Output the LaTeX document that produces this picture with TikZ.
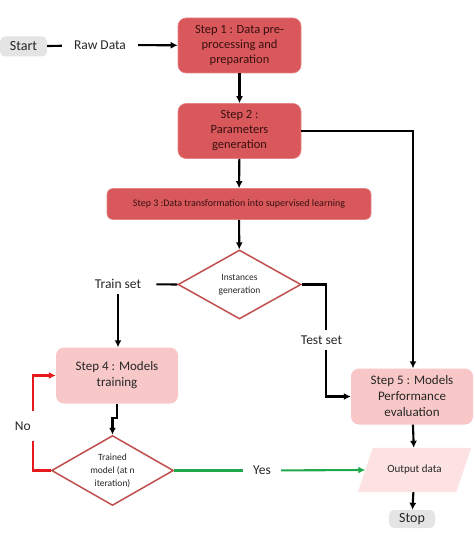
\documentclass[tikz,border=0pt]{standalone}
\usepackage{fontspec}
\setmainfont{Carlito}
\usetikzlibrary{shapes.geometric,arrows.meta,backgrounds}
\definecolor{stepdark}{HTML}{D9585B}
\definecolor{stepdarkedge}{HTML}{E38587}
\definecolor{steptext}{HTML}{3A1010}
\definecolor{steplight}{HTML}{F8C7C7}
\definecolor{outfill}{HTML}{FCE2E1}
\definecolor{diamedge}{HTML}{C0504D}
\definecolor{termfill}{HTML}{E4E4E4}
\definecolor{txtgray}{HTML}{262626}
\definecolor{nored}{HTML}{E8191C}
\definecolor{yesgreen}{HTML}{1FA84C}
\begin{document}
\begin{tikzpicture}[x=1pt,y=-1pt,
  darkbox/.style={rectangle, rounded corners=8pt, fill=stepdark, draw=stepdarkedge, line width=0.6pt,
    text=steptext, align=center, minimum width=123pt, minimum height=55pt, inner sep=2pt,
    font=\fontsize{12.5}{15}\selectfont},
  lightbox/.style={rectangle, rounded corners=8pt, fill=steplight, text=txtgray, align=center,
    minimum width=122pt, minimum height=56pt, inner sep=2pt, font=\fontsize{13}{16}\selectfont},
  decision/.style={diamond, aspect=1.75, draw=diamedge, line width=1.5pt, fill=white, inner sep=0pt,
    align=center, text=txtgray, font=\fontsize{9.5}{13}\selectfont},
  term/.style={rectangle, rounded corners=5pt, fill=termfill, text=txtgray, inner sep=0pt,
    font=\fontsize{14}{16}\selectfont},
  lbl/.style={text=txtgray, font=\fontsize{13.5}{16}\selectfont, inner ysep=3pt},
  plain/.style={line width=2.1pt, black},
  arr/.style={plain, -{Latex[length=7pt,width=7pt]}},
  noline/.style={line width=2.1pt, nored, -{Latex[length=7pt,width=7pt]}},
  yesline/.style={line width=2.1pt, yesgreen, -{Latex[length=7pt,width=7pt]}}
]
\useasboundingbox (0,0) rectangle (474,553);

% terminals
\node[term, minimum width=47pt, minimum height=20pt] (start) at (23.5,46.5) {Start};
\node[term, minimum width=46pt, minimum height=18pt] (stop) at (412,519) {Stop};

% steps
\node[darkbox] (s1) at (239.5,45.5) {Step 1 : Data pre-\\processing and\\preparation};
\node[darkbox] (s2) at (239.5,131) {Step 2 :\\Parameters\\generation};
\node[darkbox, minimum width=264pt, minimum height=31pt, rounded corners=6pt,
      font=\fontsize{10}{12}\selectfont] (s3) at (239,204) {Step 3 :Data transformation into supervised learning};
\node[decision, minimum width=123pt, minimum height=69pt] (d1) at (239.5,284.5) {Instances\\generation};
\node[lightbox] (s4) at (117,375.5) {Step 4 : Models\\training};
\node[lightbox] (s5) at (412,396.5) {Step 5 : Models\\Performance\\evaluation};
\node[decision, minimum width=122pt, minimum height=70pt] (d2) at (112.5,470.5) {Trained\\model (at n\\iteration)};
\node[rectangle, inner sep=0pt, minimum width=98pt, minimum height=44pt, text=txtgray,
      font=\fontsize{11}{13}\selectfont] (out) at (414.5,470) {Output data};
\begin{scope}[on background layer]
  \fill[outfill] ([xshift=7.5pt]out.north west) -- ([xshift=7.5pt]out.north east)
    -- ([xshift=-7.5pt]out.south east) -- ([xshift=-7.5pt]out.south west) -- cycle;
\end{scope}

% labels
\node[lbl, inner xsep=12pt] (raw) at (100,45) {Raw Data};
\node[lbl, inner xsep=15pt, inner ysep=5pt] (train) at (118,284) {Train set};
\node[lbl, inner ysep=5pt] (test) at (321.5,340) {Test set};
\node[lbl, inner xsep=10pt] (yes) at (262,470.5) {Yes};
\node[lbl, anchor=east, inner xsep=2pt, minimum height=29pt] (no) at (33,426) {No};

% connectors
\draw[plain] (start) -- (raw);
\draw[arr] (raw) -- (s1);
\draw[arr] (s1) -- (s2);
\draw[arr] (s2) -- (s3);
\draw[arr] (s3) -- (d1);
\draw[arr] (s2.east) -| ([xshift=1pt]s5.north);
\draw[plain] (d1.west) -- (train);
\draw[arr] (train.south) -- (train.south |- s4.north);
\draw[plain] (d1.east) -| ([xshift=4.5pt]test.north);
\draw[arr] ([xshift=4.5pt]test.south) |- (s5.west);
\draw[arr] (s4.south) -- ++(0,14) -| (d2.north);
\draw[arr] (s5) -- (out);
\draw[arr] (out) -- (stop);
\draw[yesgreen, line width=2.1pt] (d2.east) -- (yes);
\draw[yesline] (yes) -- (out.west);
\draw[nored, line width=2.1pt] (d2.west) -| (no.south east);
\draw[noline] (no.north east) |- (s4.west);
\end{tikzpicture}
\end{document}
